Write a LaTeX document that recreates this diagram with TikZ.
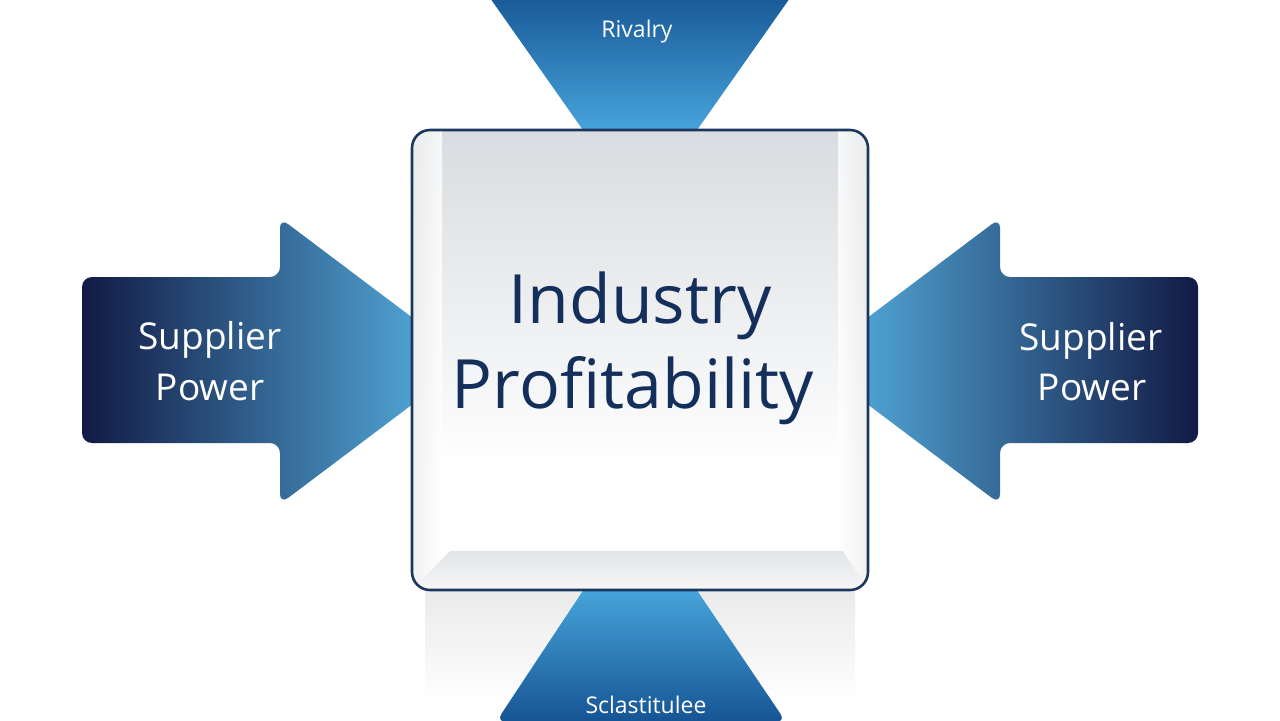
\documentclass[tikz,border=0pt]{standalone}
\usepackage{fontspec}
\newfontfamily\osans{Open Sans}
\usetikzlibrary{shadings}
\definecolor{navy}{HTML}{121A44}
\definecolor{midblue}{HTML}{0753A0}
\definecolor{lightblue}{HTML}{58B8E8}
\definecolor{topdark}{HTML}{165494}
\definecolor{toplight}{HTML}{4AAADF}
\definecolor{boxborder}{HTML}{1B365F}
\definecolor{boxtext}{HTML}{142F5C}
\definecolor{boxtop}{HTML}{D9DCE0}
\definecolor{bandgray}{HTML}{E2E4E7}
\tikzset{
  arrowshape/.style={rounded corners=5pt},
  whitelabel/.style={text=white, font=\osans\fontsize{18.5}{20}\selectfont, anchor=base, inner sep=0pt},
  smalllabel/.style={text=white, font=\osans\fontsize{11.5}{13}\selectfont, anchor=base, inner sep=0pt},
  bigtext/.style={text=boxtext, font=\osans\fontsize{34}{40}\selectfont, anchor=base, inner sep=0pt}
}
\begin{document}
\begin{tikzpicture}[x=0.5pt,y=-0.5pt]
\useasboundingbox (0,0) rectangle (1280,720);
\fill[white] (0,0) rectangle (1280,720);
% faint reflection below box
\shade[top color=black!8, bottom color=white] (425,590) rectangle (855,705);
% top arrow (pointing down)
\shade[arrowshape, top color=topdark, bottom color=toplight]
  (590,140) -- (483,-12) -- (797,-12) -- (690,140) -- cycle;
% bottom arrow (pointing up)
\shade[arrowshape, top color=toplight, bottom color=topdark]
  (590,580) -- (690,580) -- (786,722) -- (496,722) -- cycle;
% left arrow
\shade[arrowshape, left color=navy, middle color=midblue, right color=lightblue]
  (82,277) -- (280,277) -- (280,218) -- (470,361) -- (280,504) -- (280,443) -- (82,443) -- cycle;
% right arrow
\shade[arrowshape, right color=navy, middle color=midblue, left color=lightblue]
  (1198,277) -- (1000,277) -- (1000,218) -- (810,361) -- (1000,504) -- (1000,443) -- (1198,443) -- cycle;
% center box
\begin{scope}
  \clip[rounded corners=9pt] (412,130) rectangle (868,590);
  \shade[top color=boxtop, bottom color=white] (412,130) rectangle (868,470);
  \fill[white] (412,469) rectangle (868,590);
  \shade[left color=black!7, right color=white, opacity=0.8] (412,130) rectangle (442,590);
  \shade[right color=black!7, left color=white, opacity=0.8] (838,130) rectangle (868,590);
  \shade[top color=bandgray, bottom color=black!3] (412,590) -- (450,551) -- (843,551) -- (868,590) -- cycle;
\end{scope}
\draw[boxborder, line width=1.3pt, rounded corners=9pt] (412,130) rectangle (868,590);
% texts
\node[bigtext] (industry) at (640,323) {Industry};
\node[bigtext] (profit) at (633,408) {Profitability};
\node[whitelabel] (lsup) at (210,349) {Supplier};
\node[whitelabel] (lpow) at (210,400) {Power};
\node[whitelabel] (rsup) at (1091,350) {Supplier};
\node[whitelabel] (rpow) at (1092,400) {Power};
\node[smalllabel] (rivalry) at (637,37) {Rivalry};
\node[smalllabel] (subst) at (646,713) {Sclastitulee};
\end{tikzpicture}
\end{document}
